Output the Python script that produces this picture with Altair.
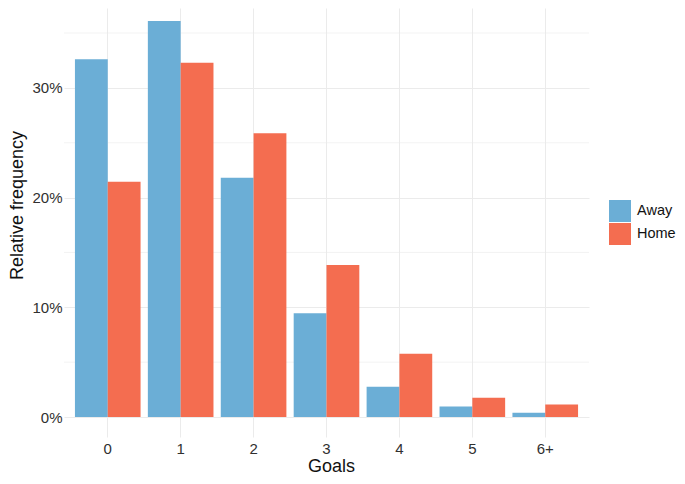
import altair as alt
import pandas as pd

goals = ["0", "1", "2", "3", "4", "5", "6+"]
away = [0.326, 0.361, 0.218, 0.0945, 0.0276, 0.0097, 0.0039]
home = [0.2145, 0.323, 0.2586, 0.1386, 0.0577, 0.0176, 0.0115]
venues = ["Away", "Home"]
colors = ["#6baed6", "#f46d50"]
y_ticks = [0.0, 0.1, 0.2, 0.3]
minor_breaks = [0.05, 0.15, 0.25, 0.35]

rows = []
for g, a, h in zip(goals, away, home):
    rows.append({"Goals": g, "Venue": "Away", "freq": a})
    rows.append({"Goals": g, "Venue": "Home", "freq": h})
df = pd.DataFrame(rows)
minor_df = pd.DataFrame({"v": minor_breaks})

FONT = "Liberation Sans"

yscale = alt.Scale(domain=[-0.0182, 0.3728], nice=False, zero=False)

minor = alt.Chart(minor_df).mark_rule(color="#ebebeb", strokeWidth=0.6).encode(
    y=alt.Y("v:Q", scale=yscale)
)

bars = alt.Chart(df).mark_bar().encode(
    x=alt.X(
        "Goals:N",
        sort=goals,
        scale=alt.Scale(paddingInner=0.1, paddingOuter=0.15),
        axis=alt.Axis(
            title="Goals",
            labelAngle=0,
            ticks=False,
            domain=False,
            grid=True,
            bandPosition=0.5,
            gridColor="#ebebeb",
            gridWidth=1,
            labelFontSize=15,
            labelColor="#303030",
            labelPadding=4,
            titleFontSize=18,
            titleFontWeight="normal",
            titleColor="#111111",
            titleX=267,
            titleY=34,
            titleBaseline="alphabetic",
            titleAnchor="start",
            titleAlign="center",
        ),
    ),
    xOffset=alt.XOffset("Venue:N", sort=venues, scale=alt.Scale(paddingInner=0, paddingOuter=0)),
    y=alt.Y(
        "freq:Q",
        scale=yscale,
        axis=alt.Axis(
            title="Relative frequency",
            values=y_ticks,
            format=".0%",
            ticks=False,
            domain=False,
            grid=True,
            gridColor="#ebebeb",
            gridWidth=1,
            labelFontSize=15,
            labelColor="#303030",
            labelPadding=2,
            titleFontSize=18,
            titleFontWeight="normal",
            titleColor="#111111",
            titleAngle=-90,
            titleX=-42,
            titleY=197,
            titleBaseline="alphabetic",
            titleAlign="center",
            titleAnchor="start",
        ),
    ),
    color=alt.Color(
        "Venue:N",
        sort=venues,
        scale=alt.Scale(domain=venues, range=colors),
        legend=alt.Legend(
            title=None,
            orient="none",
            legendX=545,
            legendY=192,
            symbolType="square",
            symbolSize=484,
            symbolStrokeWidth=0,
            symbolOpacity=1,
            labelFontSize=14.5,
            labelColor="#111111",
            labelOffset=6,
            rowPadding=1,
            padding=0,
        ),
    ),
)

chart = alt.layer(minor, bars).properties(
    width=525,
    height=429,
    autosize=alt.AutoSizeParams(type="none"),
    padding={"left": 56, "top": 0, "right": 88, "bottom": 39},
).configure(font=FONT).configure_view(stroke=None)

chart.save("out.html", embed_options={"renderer": "svg", "actions": False})
